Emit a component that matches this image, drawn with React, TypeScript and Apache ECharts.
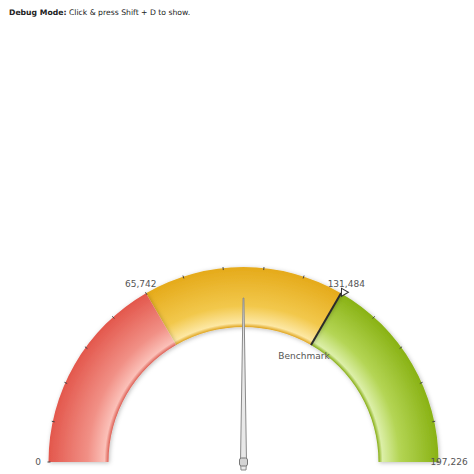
import React, { useEffect, useRef } from "react";
import * as echarts from "echarts";

// gauge scale
const scaleMin = 0;
const scaleMax = 197226;
const bandLimits = [65742, 131484, 197226];
const labelValues = [0, 65742, 131484, 197226];
const needleValue = 98600;
const benchmarkValue = 131484;
const benchmarkName = "Benchmark";

const cx = 243.5;
const cy = 462;
const radius = 195;
const bandWidth = 60;

const fmt = (v: number) => Math.round(v).toLocaleString("en-US");

// radial shading for each band: dark outer rim, light near the inner edge
const bandShade = (outer: string, mid: string, light: string, edge: string) => ({
  type: "radial",
  x: cx,
  y: cy,
  r: radius,
  global: true,
  colorStops: [
    { offset: 0, color: edge },
    { offset: (radius - bandWidth) / radius, color: edge },
    { offset: (radius - bandWidth + 4) / radius, color: light },
    { offset: 0.8, color: mid },
    { offset: 1, color: outer },
  ],
});

const bandColors = [
  bandShade("#e3574c", "#f19086", "#fbc0b8", "#dd5f54"),
  bandShade("#e5aa1a", "#f2c84c", "#fde8a4", "#dfa31c"),
  bandShade("#89b214", "#b4d555", "#dcefa8", "#86ad14"),
];

const App = () => {
  const chartRef = useRef<HTMLDivElement>(null);

  useEffect(() => {
    document.body.style.margin = "0";
    if (!chartRef.current) return;
    const myChart = echarts.init(chartRef.current, null, { renderer: "svg" });

    const common = {
      type: "gauge",
      center: [cx, cy],
      radius: radius,
      min: scaleMin,
      max: scaleMax,
      startAngle: 180,
      endAngle: 0,
      detail: { show: false },
    };

    const option = {
      animation: false,
      textStyle: { fontFamily: "DejaVu Sans" },
      title: {
        left: 4,
        top: 3,
        text: "{b|Debug Mode:} Click & press Shift + D to show.",
        textStyle: {
          fontSize: 7.7,
          fontWeight: "normal",
          color: "#222",
          fontFamily: "DejaVu Sans",
          rich: {
            b: { fontSize: 7.7, fontWeight: "bold", color: "#222", fontFamily: "DejaVu Sans" },
          },
        },
      },
      series: [
        {
          ...common,
          splitNumber: 15,
          axisLine: {
            lineStyle: {
              width: bandWidth,
              color: bandLimits.map((b, i) => [b / scaleMax, bandColors[i]]),
              shadowBlur: 4,
              shadowColor: "rgba(0,0,0,0.25)",
              shadowOffsetX: 1,
              shadowOffsetY: 1,
            },
          },
          splitLine: {
            show: true,
            distance: -61,
            length: 3,
            lineStyle: { color: "#444", width: 1 },
          },
          axisTick: { show: false },
          axisLabel: {
            show: true,
            distance: 47.5,
            rotate: 0.0001,
            fontSize: 9,
            color: "#555",
            fontFamily: "DejaVu Sans",
            formatter: (v: number) =>
              labelValues.some((l) => Math.abs(l - v) < 1) ? fmt(v) : "",
          },
          pointer: {
            show: true,
            icon: "path://M2.6,0 L3.4,0 L6,164 L5.5,172 L0.5,172 L0,164 Z",
            width: 6,
            length: 172,
            offsetCenter: [0, 8],
            itemStyle: { color: "#e8e8e8", borderColor: "#8a8a8a", borderWidth: 1 },
          },
          anchor: {
            show: true,
            showAbove: true,
            icon: "roundRect",
            size: 8,
            itemStyle: { color: "#d4d4d4", borderColor: "#777", borderWidth: 1 },
          },
          title: { show: false },
          data: [{ value: needleValue }],
        },
        {
          ...common,
          axisLine: { show: false },
          splitLine: { show: false },
          axisTick: { show: false },
          axisLabel: { show: false },
          pointer: {
            show: true,
            icon: "rect",
            width: 2,
            length: bandWidth,
            offsetCenter: [0, -(radius - bandWidth)],
            itemStyle: { color: "#2b2b2b" },
          },
          anchor: { show: false },
          title: {
            show: true,
            offsetCenter: [60.5, -106],
            fontSize: 9,
            color: "#555",
            fontFamily: "DejaVu Sans",
          },
          data: [{ value: benchmarkValue, name: benchmarkName }],
        },
        {
          ...common,
          axisLine: { show: false },
          splitLine: { show: false },
          axisTick: { show: false },
          axisLabel: { show: false },
          pointer: {
            show: true,
            // right-pointing marker, pre-rotated so it sits upright at this angle
            icon: "path://M0,0.04 L4,6.96 L8.06,0 Z",
            width: 8,
            length: 7,
            offsetCenter: [2, -(radius - 2.5)],
            itemStyle: { color: "#ffffff", borderColor: "#333", borderWidth: 1 },
          },
          anchor: { show: false },
          title: { show: false },
          data: [{ value: benchmarkValue }],
        },
      ],
    };

    myChart.setOption(option as any);

    return () => {
      myChart.dispose();
    };
  }, []);

  return <div ref={chartRef} style={{ width: "474px", height: "474px" }} />;
};

export default App;
